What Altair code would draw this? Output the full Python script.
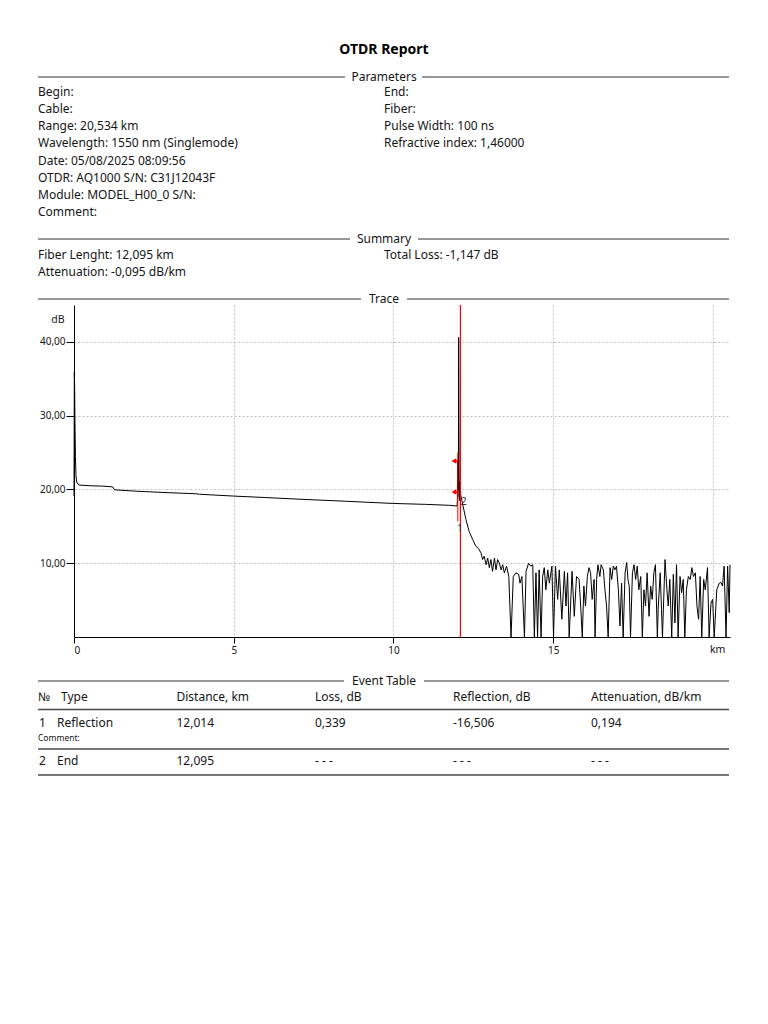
import altair as alt
import pandas as pd

# ---------------- data ----------------
report_title = "OTDR Report"
section_titles = ["Parameters", "Summary", "Trace", "Event Table"]
params_left = ["Begin:", "Cable:", "Range: 20,534 km", "Wavelength: 1550 nm (Singlemode)",
               "Date: 05/08/2025 08:09:56", "OTDR: AQ1000 S/N: C31J12043F",
               "Module: MODEL_H00_0 S/N:", "Comment:"]
params_right = ["End:", "Fiber:", "Pulse Width: 100 ns", "Refractive index: 1,46000"]
summary_left = ["Fiber Lenght: 12,095 km", "Attenuation: -0,095 dB/km"]
summary_right = ["Total Loss: -1,147 dB"]
table_headers = ["№", "Type", "Distance, km", "Loss, dB", "Reflection, dB", "Attenuation, dB/km"]
ev_no = ["1", "2"]
ev_type = ["Reflection", "End"]
ev_dist = ["12,014", "12,095"]
ev_loss = ["0,339", "- - -"]
ev_refl = ["-16,506", "- - -"]
ev_att = ["0,194", "- - -"]
event_km = [12.014, 12.095]
event_labels = ["1", "2"]
event_label_km = [12.09, 12.20]
event_label_db = [14.7, 18.3]
marker_db = [23.85, 19.65]
marker_km = 11.89
x_ticks = [0, 5, 10, 15, 20]
y_ticks = [10, 20, 30, 40]

trace_km = [
    0.000, 0.010, 0.020, 0.030, 0.045, 0.060, 0.085, 0.150, 0.500, 0.900, 1.210, 1.270,
    2.000, 3.000, 3.800, 3.930, 5.000, 6.000, 6.950, 8.500, 10.000, 11.000, 11.750, 11.990,
    12.000, 12.008, 12.016, 12.024, 12.032, 12.040, 12.048, 12.056, 12.064, 12.072, 12.080,
    12.090, 12.110,
    12.20, 12.27, 12.37, 12.48, 12.58, 12.66, 12.74,
    12.79, 12.84, 12.90, 12.95, 13.00, 13.05, 13.10, 13.16, 13.21, 13.26,
    13.31, 13.37, 13.42, 13.47, 13.54, 13.61, 13.68, 13.75, 13.83, 13.92, 13.96, 14.02,
    14.10, 14.15, 14.23, 14.30, 14.36, 14.41, 14.46, 14.51, 14.56, 14.62, 14.67, 14.72,
    14.77, 14.83, 14.88, 14.96, 15.01, 15.07, 15.14, 15.19, 15.27, 15.35, 15.40, 15.45,
    15.50, 15.59, 15.66, 15.73, 15.81, 15.86, 15.91, 15.96, 16.01, 16.07, 16.12, 16.17,
    16.22, 16.28, 16.31, 16.36, 16.40, 16.46, 16.50, 16.57, 16.62, 16.67, 16.72, 16.78,
    16.83, 16.88, 16.93, 16.98, 17.04, 17.09, 17.14, 17.19, 17.25, 17.30, 17.34, 17.38,
    17.42, 17.48, 17.53, 17.58, 17.63, 17.68, 17.74, 17.79, 17.84, 17.89, 17.94, 18.00,
    18.05, 18.10, 18.15, 18.20, 18.26, 18.29, 18.35, 18.39, 18.42, 18.50, 18.56, 18.60,
    18.65, 18.71, 18.76, 18.81, 18.86, 18.91, 18.97, 19.02, 19.07, 19.12, 19.17, 19.23,
    19.29, 19.34, 19.39, 19.45, 19.50, 19.55, 19.60, 19.65, 19.71, 19.76, 19.83, 19.88,
    19.94, 19.99, 20.04, 20.12, 20.20, 20.25, 20.30, 20.35, 20.41, 20.46, 20.51, 20.534,
]
trace_db = [
    19.1, 35.9, 34.0, 29.0, 24.5, 22.0, 21.0, 20.6, 20.5, 20.45, 20.35, 19.95,
    19.75, 19.55, 19.42, 19.35, 19.10, 18.90, 18.70, 18.40, 18.10, 17.98, 17.85, 17.75,
    18.5, 24.0, 19.0, 23.0, 20.0, 40.6, 30.0, 22.0, 18.5, 21.0, 19.5,
    20.0, 19.1,
    17.3, 15.9, 14.3, 13.2, 12.3, 12.0, 11.4,
    10.5, 10.95, 9.8, 10.7, 9.4, 10.5, 8.9, 10.7, 9.1, 10.5,
    10.05, 9.1, 9.8, 8.7, 9.6, 8.2, 0.0, 8.2, 8.7, 8.5, 7.3, 8.2,
    0.0, 8.9, 10.0, 9.6, 9.8, 0.0, 8.7, 0.0, 9.1, 0.0, 8.2, 9.4,
    6.4, 9.1, 7.3, 9.6, 0.0, 9.6, 5.1, 9.1, 2.4, 8.9, 4.2, 8.7,
    0.0, 8.9, 2.8, 8.2, 7.8, 4.2, 0.0, 6.9, 4.2, 8.2, 9.4, 8.7,
    5.1, 7.8, 0.0, 7.8, 9.8, 8.2, 9.8, 9.1, 6.4, 4.2, 0.0, 9.4,
    7.8, 9.6, 9.1, 9.6, 6.4, 1.5, 7.3, 0.0, 8.7, 10.1, 7.8, 6.9,
    0.0, 8.7, 9.8, 7.8, 9.6, 6.4, 8.2, 0.0, 6.4, 4.2, 8.7, 2.8,
    6.9, 5.1, 8.7, 9.8, 0.0, 4.2, 8.7, 3.7, 0.0, 10.5, 6.4, 4.2,
    7.8, 0.0, 8.5, 1.9, 9.8, 0.0, 8.2, 6.0, 7.8, 0.0, 6.4, 8.2,
    7.8, 9.4, 8.2, 8.7, 4.2, 2.4, 8.2, 0.0, 7.8, 6.4, 9.4, 0.0,
    4.6, 5.1, 0.0, 6.4, 7.3, 7.4, 6.9, 9.6, 0.0, 9.6, 3.3, 9.8,
]

# ---------------- layout (page pixels) ----------------
W, H = 656, 332          # plot area
OX, OY = 74, 305         # page position of the plot origin
FONT = "Noto Sans"
TXT = "#151515"


def rx(v):
    return v - OX


def ry(v):
    return v - OY


ROW0, STEP = 92, 17.14
body = []
for i, t in enumerate(params_left):
    body.append((t, 38, ROW0 + i * STEP, 12))
for i, t in enumerate(params_right):
    body.append((t, 384, ROW0 + i * STEP, 12))
for i, t in enumerate(summary_left):
    body.append((t, 38, 255 + i * 17, 12))
for i, t in enumerate(summary_right):
    body.append((t, 384, 255 + i * 17, 12))
head_x = [38, 61, 176.5, 315, 453, 591]
for t, x in zip(table_headers, head_x):
    body.append((t, x, 697, 12))
cell_x = [39, 57, 176.5, 315, 453, 591]
for r, y in zip(zip(ev_no, ev_type, ev_dist, ev_loss, ev_refl, ev_att), [722.5, 761]):
    for t, x in zip(r, cell_x):
        body.append((t, x, y, 12))
body.append(("Comment:", 38, 737.5, 8.5))
body.append(("km", 710, 650, 10.5))
body_df = pd.DataFrame([{"t": t, "x": rx(x), "y": ry(y), "fs": fs} for t, x, y, fs in body])

sec_y = [77, 239, 299, 681]
sec_span = [(353, 414), (358, 410), (369, 399), (352, 416)]
center = [(t, 384, y, 12) for t, y in zip(section_titles, sec_y)]
center.append(("dB", 58, 320, 10.5))
center_df = pd.DataFrame([{"t": t, "x": rx(x), "y": ry(y), "fs": fs} for t, x, y, fs in center])

title_df = pd.DataFrame([{"t": report_title, "x": rx(384), "y": ry(50)}])

lines = []
for y, (a, b) in zip(sec_y, sec_span):
    lines.append((38, a - 8, y, 1, "#333333"))
    lines.append((b + 8, 729, y, 1, "#333333"))
for y in [709.5, 749, 775]:
    lines.append((38, 729, y, 1.6, "#4a4a4a"))
lines_df = pd.DataFrame([{"x": rx(a), "x2": rx(b), "y": ry(y), "w": w, "c": c} for a, b, y, w, c in lines])

# ---------------- chart ----------------
xscale = alt.Scale(domain=[0, 20.534], nice=False, zero=False)
yscale = alt.Scale(domain=[0, 45], nice=False, zero=False)

x_axis = alt.Axis(
    values=x_ticks, title=None, grid=True, gridColor="#bdbdbd", gridDash=[2, 2],
    labelExpr="datum.value == 20 ? '' : datum.label",
    tickColor=alt.condition("datum.value == 20", alt.value("transparent"), alt.value("black")),
    tickSize=6, labelPadding=2, domainColor="black", labelFontSize=10, labelColor=TXT,
    labelFont=FONT,
)
y_axis = alt.Axis(
    values=y_ticks, title=None, grid=True, gridColor="#bdbdbd", gridDash=[2, 2],
    labelExpr="replace(format(datum.value, '.2f'), '.', ',')",
    tickSize=8, labelPadding=1, domainColor="black", tickColor="black", labelFontSize=10,
    labelColor=TXT, labelFont=FONT,
)

trace_df = pd.DataFrame({"km": trace_km, "db": trace_db})
trace = alt.Chart(trace_df).mark_line(color="black", strokeWidth=1.0).encode(
    x=alt.X("km:Q", scale=xscale, axis=x_axis),
    y=alt.Y("db:Q", scale=yscale, axis=y_axis),
)

end_rule = alt.Chart(pd.DataFrame({"km": [event_km[1]]})).mark_rule(color="red", strokeWidth=1.2).encode(
    x=alt.X("km:Q", title=None)
)
ev_rule = alt.Chart(pd.DataFrame({"km": [event_km[0]], "lo": [15.7], "hi": [25.0]})).mark_rule(
    color="red", strokeWidth=1).encode(
    x=alt.X("km:Q", title=None), y=alt.Y("lo:Q", title=None), y2="hi:Q"
)
mk_df = pd.DataFrame({"km": [marker_km] * len(marker_db), "km2": [event_km[0]] * len(marker_db), "db": marker_db})
stubs = alt.Chart(mk_df).mark_rule(color="red", strokeWidth=1.5).encode(
    x=alt.X("km:Q", title=None), x2="km2:Q", y=alt.Y("db:Q", title=None)
)
arrows = alt.Chart(mk_df).mark_point(shape="triangle-left", filled=True, color="red", size=32, opacity=1).encode(
    x=alt.X("km:Q", title=None), y=alt.Y("db:Q", title=None)
)
ev_text = alt.Chart(pd.DataFrame({"t": event_labels, "km": event_label_km, "db": event_label_db})).mark_text(
    font=FONT, fontSize=11, color="#333333").encode(
    x=alt.X("km:Q", title=None), y=alt.Y("db:Q", title=None), text="t:N"
)

PX = dict(scale=None, axis=None)
body_layer = alt.Chart(body_df).mark_text(align="left", baseline="middle", font=FONT, color=TXT).encode(
    x=alt.X("x:Q", **PX), y=alt.Y("y:Q", **PX), text="t:N", size=alt.Size("fs:Q", scale=None, legend=None)
)
center_layer = alt.Chart(center_df).mark_text(align="center", baseline="middle", font=FONT, color=TXT).encode(
    x=alt.X("x:Q", **PX), y=alt.Y("y:Q", **PX), text="t:N", size=alt.Size("fs:Q", scale=None, legend=None)
)
title_layer = alt.Chart(title_df).mark_text(align="center", baseline="middle", font=FONT, fontSize=14,
                                            fontWeight="bold", color="black").encode(
    x=alt.X("x:Q", **PX), y=alt.Y("y:Q", **PX), text="t:N"
)
lines_layer = alt.Chart(lines_df).mark_rule().encode(
    x=alt.X("x:Q", **PX), x2="x2:Q", y=alt.Y("y:Q", **PX),
    strokeWidth=alt.StrokeWidth("w:Q", scale=None, legend=None),
    color=alt.Color("c:N", scale=None, legend=None),
)

chart = alt.layer(
    trace, end_rule, ev_rule, stubs, arrows, ev_text,
    lines_layer, body_layer, center_layer, title_layer,
).properties(
    width=W, height=H,
    padding={"left": OX - 8, "top": OY - 8, "right": 30, "bottom": 200},
    autosize=alt.AutoSizeParams(type="none"),
    background="white",
).configure_view(stroke=None)

chart.save("out.html", embed_options={"renderer": "svg", "actions": False})
